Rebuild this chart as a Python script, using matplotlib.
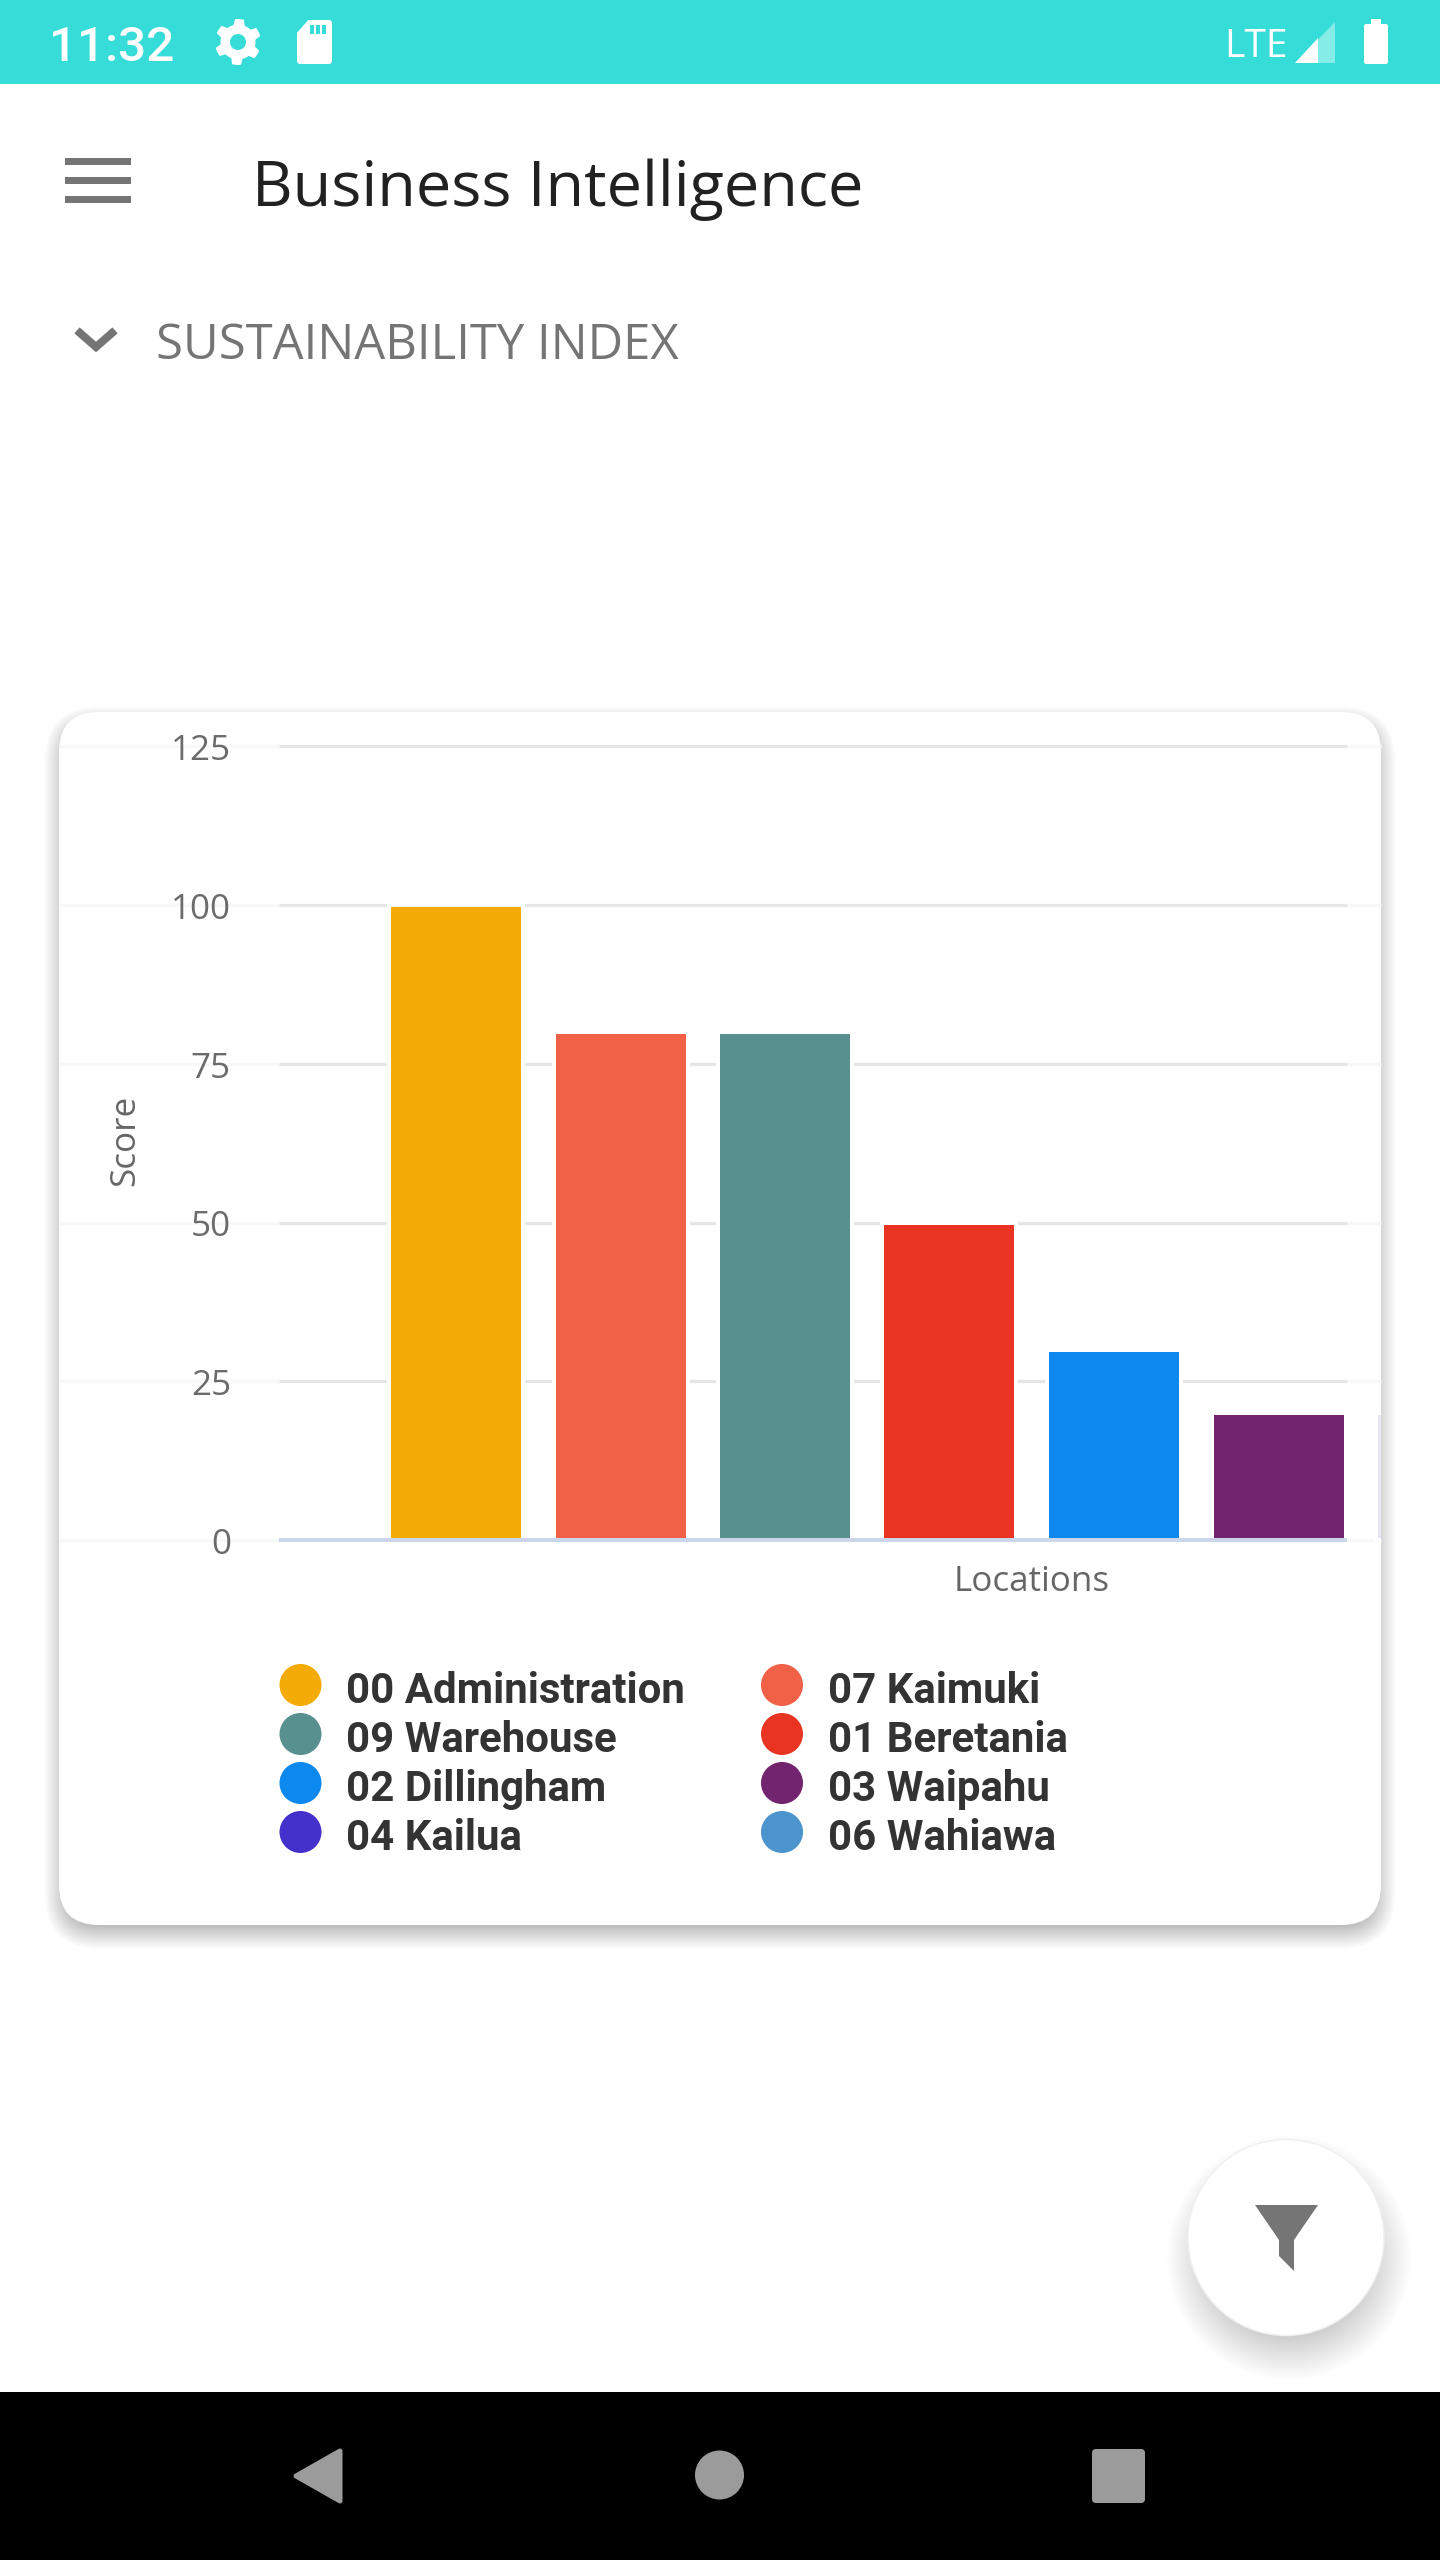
import matplotlib
matplotlib.use("Agg")
import matplotlib.pyplot as plt
from matplotlib.patches import FancyBboxPatch, Circle, Polygon, Rectangle
from matplotlib.transforms import ScaledTranslation
import numpy as np

# ---- data -------------------------------------------------------------
legend_labels = ["00 Administration", "07 Kaimuki", "09 Warehouse", "01 Beretania",
                 "02 Dillingham", "03 Waipahu", "04 Kailua", "06 Wahiawa"]
legend_colors = ["#F5AB05", "#F16147", "#58908F", "#E93323",
                 "#0C88EE", "#72246F", "#4431CC", "#4B94CE"]
scores = [100, 80, 80, 50, 30, 20, 20]
bar_colors = ["#F5AB05", "#F16147", "#58908F", "#E93323", "#0C88EE", "#72246F", "#E6E6F2"]
y_ticks = [0, 25, 50, 75, 100, 125]
y_title = "Score"
x_title = "Locations"
W, H = 1440, 2560
px = 0.72  # points per pixel at dpi 100

FONT = "Open Sans"
plt.rcParams["font.family"] = [FONT, "DejaVu Sans"]

fig = plt.figure(figsize=(W / 100, H / 100), dpi=100, facecolor="white")
bg = fig.add_axes([0, 0, 1, 1], zorder=0)
bg.set_xlim(0, W)
bg.set_ylim(H, 0)
bg.axis("off")

# ---- app chrome ---------------------------------------------------------
STATUS = "#35DCD8"
GREY = "#757575"
bg.add_patch(Rectangle((0, 0), W, 84, fc=STATUS, ec="none"))
bg.text(49, 61, "11:32", family="Roboto", weight="medium", fontsize=49.5 * px, color="white", va="baseline")

# gear
gc = (238, 42)
teeth = []
for k in range(48):
    a = k * 2 * np.pi / 48
    r = 23 if (k % 8) in (0, 1, 2, 7) else 17.5
    teeth.append((gc[0] + r * np.sin(a), gc[1] - r * np.cos(a)))
bg.add_patch(Polygon(teeth, fc="white", ec="none"))
bg.add_patch(Circle(gc, 8, fc=STATUS, ec="none"))
# sd card
bg.add_patch(FancyBboxPatch((297, 20), 35, 44, boxstyle="round,pad=0,rounding_size=3", fc="white", ec="none"))
bg.add_patch(Polygon([(295, 18), (310, 18), (295, 35)], fc=STATUS, ec="none"))
for x in (310, 316, 322):
    bg.add_patch(Rectangle((x, 25), 3.5, 9, fc=STATUS, ec="none"))
# LTE, signal, battery
bg.text(1224, 57, "LTE", fontsize=39 * px, color="white", va="baseline", family=FONT)
bg.add_patch(Polygon([(1295, 63), (1335, 63), (1335, 22)], fc="#86ECE8", ec="none"))
bg.add_patch(Polygon([(1295, 63), (1318, 63), (1318, 38)], fc="white", ec="none"))
bg.add_patch(FancyBboxPatch((1364, 24), 24, 40, boxstyle="round,pad=0,rounding_size=2", fc="white", ec="none"))
bg.add_patch(Rectangle((1371, 19), 10, 7, fc="white", ec="none"))

# header
for y in (158, 177, 196):
    bg.add_patch(Rectangle((65, y), 66, 7, fc=GREY, ec="none"))
bg.text(252, 206, "Business Intelligence", fontsize=63 * px, color="#212121", va="baseline")
bg.plot([80, 96, 112], [333, 347, 333], color=GREY, lw=8 * px, solid_capstyle="projecting", solid_joinstyle="miter")
bg.text(156, 359, "SUSTAINABILITY INDEX", fontsize=49 * px, color=GREY, va="baseline")


def shadow(make, dy, blur, alpha, n=28):
    for i in range(n):
        make(blur * (1 - 2 * (i + 0.5) / n), dy, alpha / n)


# ---- card ---------------------------------------------------------------
cx0, cy0, cx1, cy1 = 59, 712, 1381, 1925


def card_shadow(g, dy, a):
    bg.add_patch(FancyBboxPatch((cx0 - g, cy0 - g + dy), cx1 - cx0 + 2 * g, cy1 - cy0 + 2 * g,
                                boxstyle=f"round,pad=0,rounding_size={40 + g}", fc="black", ec="none", alpha=a))


shadow(card_shadow, 9, 15, 0.28)
bg.add_patch(FancyBboxPatch((cx0, cy0), cx1 - cx0, cy1 - cy0,
                            boxstyle="round,pad=0,rounding_size=40", fc="white", ec="none"))

# faint grid extensions across the card
Y0, PPU = 1540, 6.35
for t in y_ticks:
    yy = Y0 - t * PPU
    bg.plot([cx0, 279], [yy, yy], color="#F7F8FA", lw=3.3 * px, solid_capstyle="butt")
    bg.plot([1347, cx1], [yy, yy], color="#F7F8FA", lw=3.3 * px, solid_capstyle="butt")

# ---- plot ---------------------------------------------------------------
YPAD = 0.5
ax_left, ax_right = 279, cx1
ax_top = Y0 - (y_ticks[-1] + YPAD) * PPU
ax_bot = Y0 + YPAD * PPU
ax = fig.add_axes([ax_left / W, 1 - ax_bot / H, (ax_right - ax_left) / W, (ax_bot - ax_top) / H], zorder=1)
ax.patch.set_alpha(0)
for s in ax.spines.values():
    s.set_visible(False)

PITCH, FIRST = 164.5, 456
xs = np.arange(len(scores))
ax.set_xlim((ax_left - FIRST) / PITCH, (ax_right - FIRST) / PITCH)
ax.set_ylim(-YPAD, y_ticks[-1] + YPAD)
grid_end = (1347 - FIRST) / PITCH
x0 = ax.get_xlim()[0]
ax.hlines(y_ticks[1:], x0, grid_end, color="#E6E6E6", lw=3.3 * px, zorder=1)
ax.bar(xs, scores, width=134 / PITCH, color=bar_colors, edgecolor="white", linewidth=4 * px, zorder=2)
ax.hlines([0], x0, grid_end, color="#CCD6EB", lw=4 * px, zorder=3)

ax.set_xticks([])
ax.set_yticks(y_ticks)
ax.set_yticklabels([str(t) for t in y_ticks], fontsize=35 * px, color="#6B6B6B")
ax.tick_params(axis="y", length=0, pad=48 * px)
down = ScaledTranslation(0, -5 * px / 72, fig.dpi_scale_trans)
for lab in ax.get_yticklabels():
    lab.set_verticalalignment("center")
    lab.set_transform(lab.get_transform() + down)
ax.set_ylabel(y_title, fontsize=35 * px, color="#666666", va="center")
ax.yaxis.set_label_coords((125 - ax_left) / (ax_right - ax_left), 1 - (1140 - ax_top) / (ax_bot - ax_top))
ax.set_xlabel(x_title, fontsize=35 * px, color="#666666", va="center")
ax.xaxis.set_label_coords((1032 - ax_left) / (ax_right - ax_left), 1 - (1582 - ax_top) / (ax_bot - ax_top))

# ---- legend -------------------------------------------------------------
leg_rows = [1685, 1734, 1783, 1832]
for i, (lab, col) in enumerate(zip(legend_labels, legend_colors)):
    r, c = i // 2, i % 2
    xc = (300.5, 782)[c]
    bg.add_patch(Circle((xc, leg_rows[r]), 21, fc=col, ec="none"))
    bg.text(xc + 46, leg_rows[r] + 18, lab, family="Roboto", weight="bold", fontsize=42 * px,
            color="#333333", va="baseline")


# ---- FAB ----------------------------------------------------------------
fx, fy, fr = 1286, 2237.5, 98


def fab_shadow(g, dy, a):
    bg.add_patch(Circle((fx + 3, fy + dy), fr + g, fc="black", ec="none", alpha=a))


shadow(fab_shadow, 20, 25, 0.26)
bg.add_patch(Circle((fx, fy), fr, fc="white", ec="#F0F0F0", lw=1.5 * px))
bg.add_patch(Polygon([(1255, 2205), (1318, 2205), (1294, 2240), (1294, 2271), (1279, 2256), (1279, 2240)],
                     fc=GREY, ec="none"))

# ---- nav bar ------------------------------------------------------------
NAV = "#9B9B9B"
bg.add_patch(Rectangle((0, 2392), W, H - 2392, fc="black", ec="none"))
bg.add_patch(Polygon([(340, 2451), (340, 2501), (296, 2476)], fc=NAV, ec=NAV, lw=5 * px, joinstyle="round"))
bg.add_patch(Circle((719.5, 2475), 24.5, fc=NAV, ec="none"))
bg.add_patch(FancyBboxPatch((1092, 2449), 53, 54, boxstyle="round,pad=0,rounding_size=4", fc=NAV, ec="none"))

fig.savefig("out.png", dpi=100, facecolor="white")
